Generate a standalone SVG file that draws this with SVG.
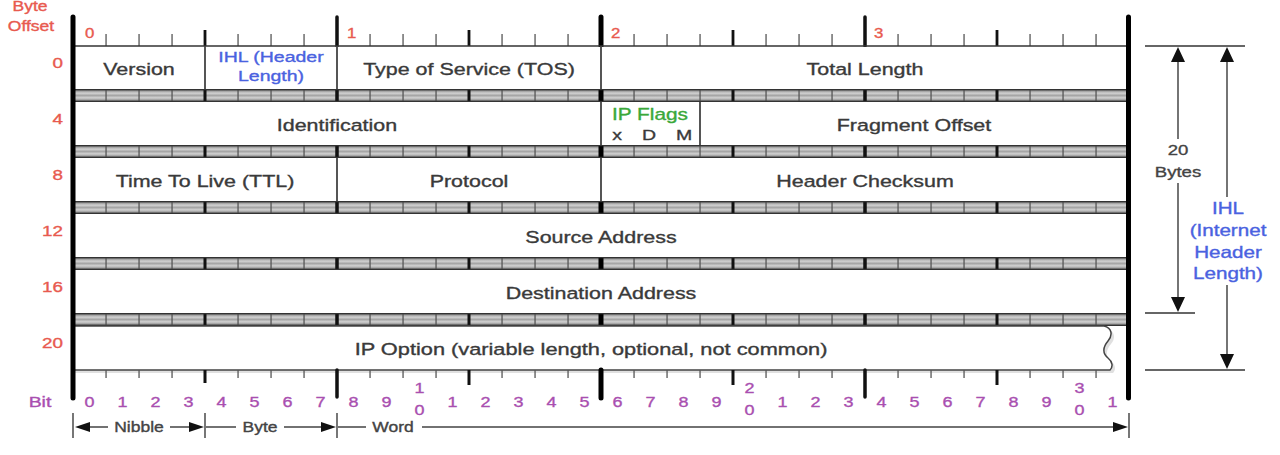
<svg xmlns="http://www.w3.org/2000/svg" xmlns:xlink="http://www.w3.org/1999/xlink" width="1280" height="455" viewBox="0 0 1280 455">
<style>
text{font-family:"Liberation Sans",Arial,Helvetica,sans-serif;stroke-width:0.35px}
.t{font-size:16.5px;fill:#3a3a3a;stroke:#3a3a3a;text-anchor:middle}
.bl{font-size:15px;fill:#4a62e0;stroke:#4a62e0;text-anchor:middle}
.bl2{font-size:16.5px;fill:#4a62e0;stroke:#4a62e0;text-anchor:middle}
.gr{font-size:16px;fill:#3aa83a;stroke:#3aa83a;text-anchor:middle}
.fl{font-size:15px;fill:#3a3a3a;stroke:#3a3a3a;text-anchor:middle}
.rd{font-size:14px;fill:#e85a4f;stroke:#e85a4f}
.ro{font-size:14.5px;fill:#e85a4f;stroke:#e85a4f;text-anchor:end}
.pu{font-size:15px;fill:#a94fb0;stroke:#a94fb0;text-anchor:middle}
.sm{font-size:14px;fill:#444;stroke:#444;text-anchor:middle}
.dm{font-size:15.5px;fill:#444;stroke:#444;text-anchor:middle}
.cell{fill:#fff}
.sep{stroke:#444;stroke-width:1.8;fill:none}
.dim{stroke:#666;stroke-width:1.8;fill:none}
.ah{fill:#111}
</style>
<defs>
<linearGradient id="bg" x1="0" y1="0" x2="0" y2="1">
<stop offset="0" stop-color="#3a3a3a"/>
<stop offset="0.15" stop-color="#9a9a9a"/>
<stop offset="0.32" stop-color="#d2d2d2"/>
<stop offset="0.5" stop-color="#a6a6a6"/>
<stop offset="0.68" stop-color="#d2d2d2"/>
<stop offset="0.85" stop-color="#9a9a9a"/>
<stop offset="1" stop-color="#3a3a3a"/>
</linearGradient>
<pattern id="tk" x="73" y="0" width="33" height="600" patternUnits="userSpaceOnUse">
<rect x="-0.6" y="0" width="1.3" height="600" fill="#555"/>
<rect x="32.4" y="0" width="1.3" height="600" fill="#555"/>
</pattern>
<g id="band">
<rect x="73" y="0" width="1056" height="13" fill="url(#bg)"/>
<rect x="73" y="0" width="1056" height="13" fill="url(#tk)"/>
<path d="M205,0V13M469,0V13M733,0V13M997,0V13" stroke="#111" stroke-width="3"/>
<path d="M337,0V13M865,0V13" stroke="#111" stroke-width="3.5"/>
<path d="M601,0V13" stroke="#000" stroke-width="5"/>
<path d="M73,0.6H1129M73,12.4H1129" stroke="#333" stroke-width="1.2"/>
</g>
</defs>

<rect width="1280" height="455" fill="#fff"/>

<g id="labels-offset">
<text class="rd" text-anchor="middle" transform="translate(30,11) scale(1.25,1)">Byte</text>
<text class="rd" text-anchor="middle" transform="translate(31,31) scale(1.25,1)">Offset</text>
<text class="rd" transform="translate(85,38) scale(1.2,1)">0</text>
<text class="rd" transform="translate(347,38) scale(1.2,1)">1</text>
<text class="rd" transform="translate(611,38) scale(1.2,1)">2</text>
<text class="rd" transform="translate(874,38) scale(1.2,1)">3</text>
<text class="ro" transform="translate(63,68) scale(1.3,1)">0</text>
<text class="ro" transform="translate(63,124) scale(1.3,1)">4</text>
<text class="ro" transform="translate(63,180) scale(1.3,1)">8</text>
<text class="ro" transform="translate(63,236) scale(1.3,1)">12</text>
<text class="ro" transform="translate(63,292) scale(1.3,1)">16</text>
<text class="ro" transform="translate(63,348) scale(1.3,1)">20</text>
</g>

<g id="top-ruler">
<rect x="73" y="34" width="1056" height="12" fill="url(#tk)"/>
<path d="M205,30V46M469,30V46M733,30V46M997,30V46" stroke="#111" stroke-width="2.8"/>
<path d="M337,17V46M865,17V46" stroke="#111" stroke-width="3.5" stroke-linecap="round"/>
<path d="M601,17V46" stroke="#000" stroke-width="5" stroke-linecap="round"/>
<path d="M73,46H1129" stroke="#333" stroke-width="1.6"/>
</g>

<g id="bands">
<use xlink:href="#band" href="#band" y="89"/>
<use xlink:href="#band" href="#band" y="145"/>
<use xlink:href="#band" href="#band" y="201"/>
<use xlink:href="#band" href="#band" y="257"/>
<use xlink:href="#band" href="#band" y="313"/>
</g>

<g id="f-version"><rect class="cell" x="73" y="47" width="132" height="42"/><text class="t" transform="translate(139,75) scale(1.3,1)">Version</text></g>
<g id="f-ihl"><rect class="cell" x="205" y="47" width="132" height="42"/><text class="bl" transform="translate(271,62) scale(1.3,1)">IHL (Header</text><text class="bl" transform="translate(271,81) scale(1.3,1)">Length)</text></g>
<g id="f-tos"><rect class="cell" x="337" y="47" width="264" height="42"/><text class="t" transform="translate(469,75) scale(1.3,1)">Type of Service (TOS)</text></g>
<g id="f-totlen"><rect class="cell" x="601" y="47" width="528" height="42"/><text class="t" transform="translate(865,75) scale(1.3,1)">Total Length</text></g>

<g id="f-ident"><rect class="cell" x="73" y="102" width="528" height="43"/><text class="t" transform="translate(337,131) scale(1.3,1)">Identification</text></g>
<g id="f-flags"><rect class="cell" x="601" y="102" width="99" height="43"/><text class="gr" transform="translate(650,120) scale(1.3,1)">IP Flags</text><text class="fl" transform="translate(617,140) scale(1.3,1)">x</text><text class="fl" transform="translate(649,140) scale(1.3,1)">D</text><text class="fl" transform="translate(684,140) scale(1.3,1)">M</text></g>
<g id="f-fragoff"><rect class="cell" x="700" y="102" width="429" height="43"/><text class="t" transform="translate(914,131) scale(1.3,1)">Fragment Offset</text></g>

<g id="f-ttl"><rect class="cell" x="73" y="158" width="264" height="43"/><text class="t" transform="translate(205,187) scale(1.3,1)">Time To Live (TTL)</text></g>
<g id="f-proto"><rect class="cell" x="337" y="158" width="264" height="43"/><text class="t" transform="translate(469,187) scale(1.3,1)">Protocol</text></g>
<g id="f-cksum"><rect class="cell" x="601" y="158" width="528" height="43"/><text class="t" transform="translate(865,187) scale(1.3,1)">Header Checksum</text></g>

<g id="f-src"><rect class="cell" x="73" y="214" width="1056" height="43"/><text class="t" transform="translate(601,243) scale(1.3,1)">Source Address</text></g>
<g id="f-dst"><rect class="cell" x="73" y="270" width="1056" height="43"/><text class="t" transform="translate(601,299) scale(1.3,1)">Destination Address</text></g>

<g id="f-options">
<path d="M75,329H1107C1115,331 1116,338 1111,344C1106,350 1105,356 1111,361C1116,365 1116,370 1113,373H75Z" fill="#000" opacity="0.12"/>
<path d="M73,326H1104C1112,328 1113,335 1108,341C1103,347 1102,353 1108,358C1113,362 1113,367 1110,370H73Z" fill="#fff" stroke="#444" stroke-width="1.5"/>
<text class="t" transform="translate(591,355) scale(1.32,1)">IP Option (variable length, optional, not common)</text>
</g>

<g id="separators">
<path class="sep" d="M205,46V89M337,46V89M601,46V89M601,102V145M700,102V145M337,158V201M601,158V201"/>
</g>

<g id="bottom-ruler">
<rect x="74" y="370" width="1036" height="8" fill="url(#tk)"/>
<path d="M205,370V383M469,370V385M733,370V385M997,370V385" stroke="#111" stroke-width="3"/>
<path d="M337,370V397M865,370V397" stroke="#111" stroke-width="3.5" stroke-linecap="round"/>
<path d="M601,370V398" stroke="#000" stroke-width="5" stroke-linecap="round"/>
</g>

<g id="edges">
<path d="M73,17V398M1128.5,17V398" stroke="#000" stroke-width="5" stroke-linecap="round"/>
</g>

<g id="bit-numbers">
<text class="pu" transform="translate(40,407) scale(1.3,1)">Bit</text>
<text class="pu" transform="translate(89.5,407) scale(1.2,1)">0</text>
<text class="pu" transform="translate(122.5,407) scale(1.2,1)">1</text>
<text class="pu" transform="translate(155.5,407) scale(1.2,1)">2</text>
<text class="pu" transform="translate(188.5,407) scale(1.2,1)">3</text>
<text class="pu" transform="translate(221.5,407) scale(1.2,1)">4</text>
<text class="pu" transform="translate(254.5,407) scale(1.2,1)">5</text>
<text class="pu" transform="translate(287.5,407) scale(1.2,1)">6</text>
<text class="pu" transform="translate(320.5,407) scale(1.2,1)">7</text>
<text class="pu" transform="translate(353.5,407) scale(1.2,1)">8</text>
<text class="pu" transform="translate(386.5,407) scale(1.2,1)">9</text>
<text class="pu" transform="translate(419.5,393) scale(1.2,1)">1</text>
<text class="pu" transform="translate(419.5,415) scale(1.2,1)">0</text>
<text class="pu" transform="translate(452.5,407) scale(1.2,1)">1</text>
<text class="pu" transform="translate(485.5,407) scale(1.2,1)">2</text>
<text class="pu" transform="translate(518.5,407) scale(1.2,1)">3</text>
<text class="pu" transform="translate(551.5,407) scale(1.2,1)">4</text>
<text class="pu" transform="translate(584.5,407) scale(1.2,1)">5</text>
<text class="pu" transform="translate(617.5,407) scale(1.2,1)">6</text>
<text class="pu" transform="translate(650.5,407) scale(1.2,1)">7</text>
<text class="pu" transform="translate(683.5,407) scale(1.2,1)">8</text>
<text class="pu" transform="translate(716.5,407) scale(1.2,1)">9</text>
<text class="pu" transform="translate(749.5,393) scale(1.2,1)">2</text>
<text class="pu" transform="translate(749.5,415) scale(1.2,1)">0</text>
<text class="pu" transform="translate(782.5,407) scale(1.2,1)">1</text>
<text class="pu" transform="translate(815.5,407) scale(1.2,1)">2</text>
<text class="pu" transform="translate(848.5,407) scale(1.2,1)">3</text>
<text class="pu" transform="translate(881.5,407) scale(1.2,1)">4</text>
<text class="pu" transform="translate(914.5,407) scale(1.2,1)">5</text>
<text class="pu" transform="translate(947.5,407) scale(1.2,1)">6</text>
<text class="pu" transform="translate(980.5,407) scale(1.2,1)">7</text>
<text class="pu" transform="translate(1013.5,407) scale(1.2,1)">8</text>
<text class="pu" transform="translate(1046.5,407) scale(1.2,1)">9</text>
<text class="pu" transform="translate(1079.5,393) scale(1.2,1)">3</text>
<text class="pu" transform="translate(1079.5,415) scale(1.2,1)">0</text>
<text class="pu" transform="translate(1112.5,407) scale(1.2,1)">1</text>
</g>

<g id="connectors">
<g id="dim-20bytes">
<path class="dim" d="M1145,46H1245M1145,313H1195M1145,370H1245"/>
<path class="dim" d="M1178,60V139M1178,183V299"/>
<polygon class="ah" points="1178,47 1171,62 1185,62"/>
<polygon class="ah" points="1178,312 1171,297 1185,297"/>
<text class="dm" transform="translate(1178,155) scale(1.2,1)">20</text>
<text class="dm" transform="translate(1178,177) scale(1.2,1)">Bytes</text>
</g>
<g id="dim-ihl">
<path class="dim" d="M1227,60V197M1227,285V356"/>
<polygon class="ah" points="1227,47 1220,62 1234,62"/>
<polygon class="ah" points="1227,369 1220,354 1234,354"/>
<text class="bl2" transform="translate(1228,214) scale(1.25,1)">IHL</text>
<text class="bl2" transform="translate(1228,236) scale(1.25,1)">(Internet</text>
<text class="bl2" transform="translate(1228,258) scale(1.25,1)">Header</text>
<text class="bl2" transform="translate(1228,279) scale(1.25,1)">Length)</text>
</g>
<g id="scale-arrows">
<path d="M73,413V438M205,413V438M337,413V438M1129,413V438" stroke="#555" stroke-width="1.6"/>
<path d="M88,427H108M170,427H192M206,427H236M284,427H323M338,427H366M422,427H1115" stroke="#444" stroke-width="1.6"/>
<polygon class="ah" points="75,427 90,422 90,432"/>
<polygon class="ah" points="204,427 189,422 189,432"/>
<polygon class="ah" points="336,427 321,422 321,432"/>
<polygon class="ah" points="1128,427 1113,422 1113,432"/>
<text class="sm" transform="translate(139,432) scale(1.25,1)">Nibble</text>
<text class="sm" transform="translate(260,432) scale(1.25,1)">Byte</text>
<text class="sm" transform="translate(393,432) scale(1.25,1)">Word</text>
</g>
</g>
</svg>
